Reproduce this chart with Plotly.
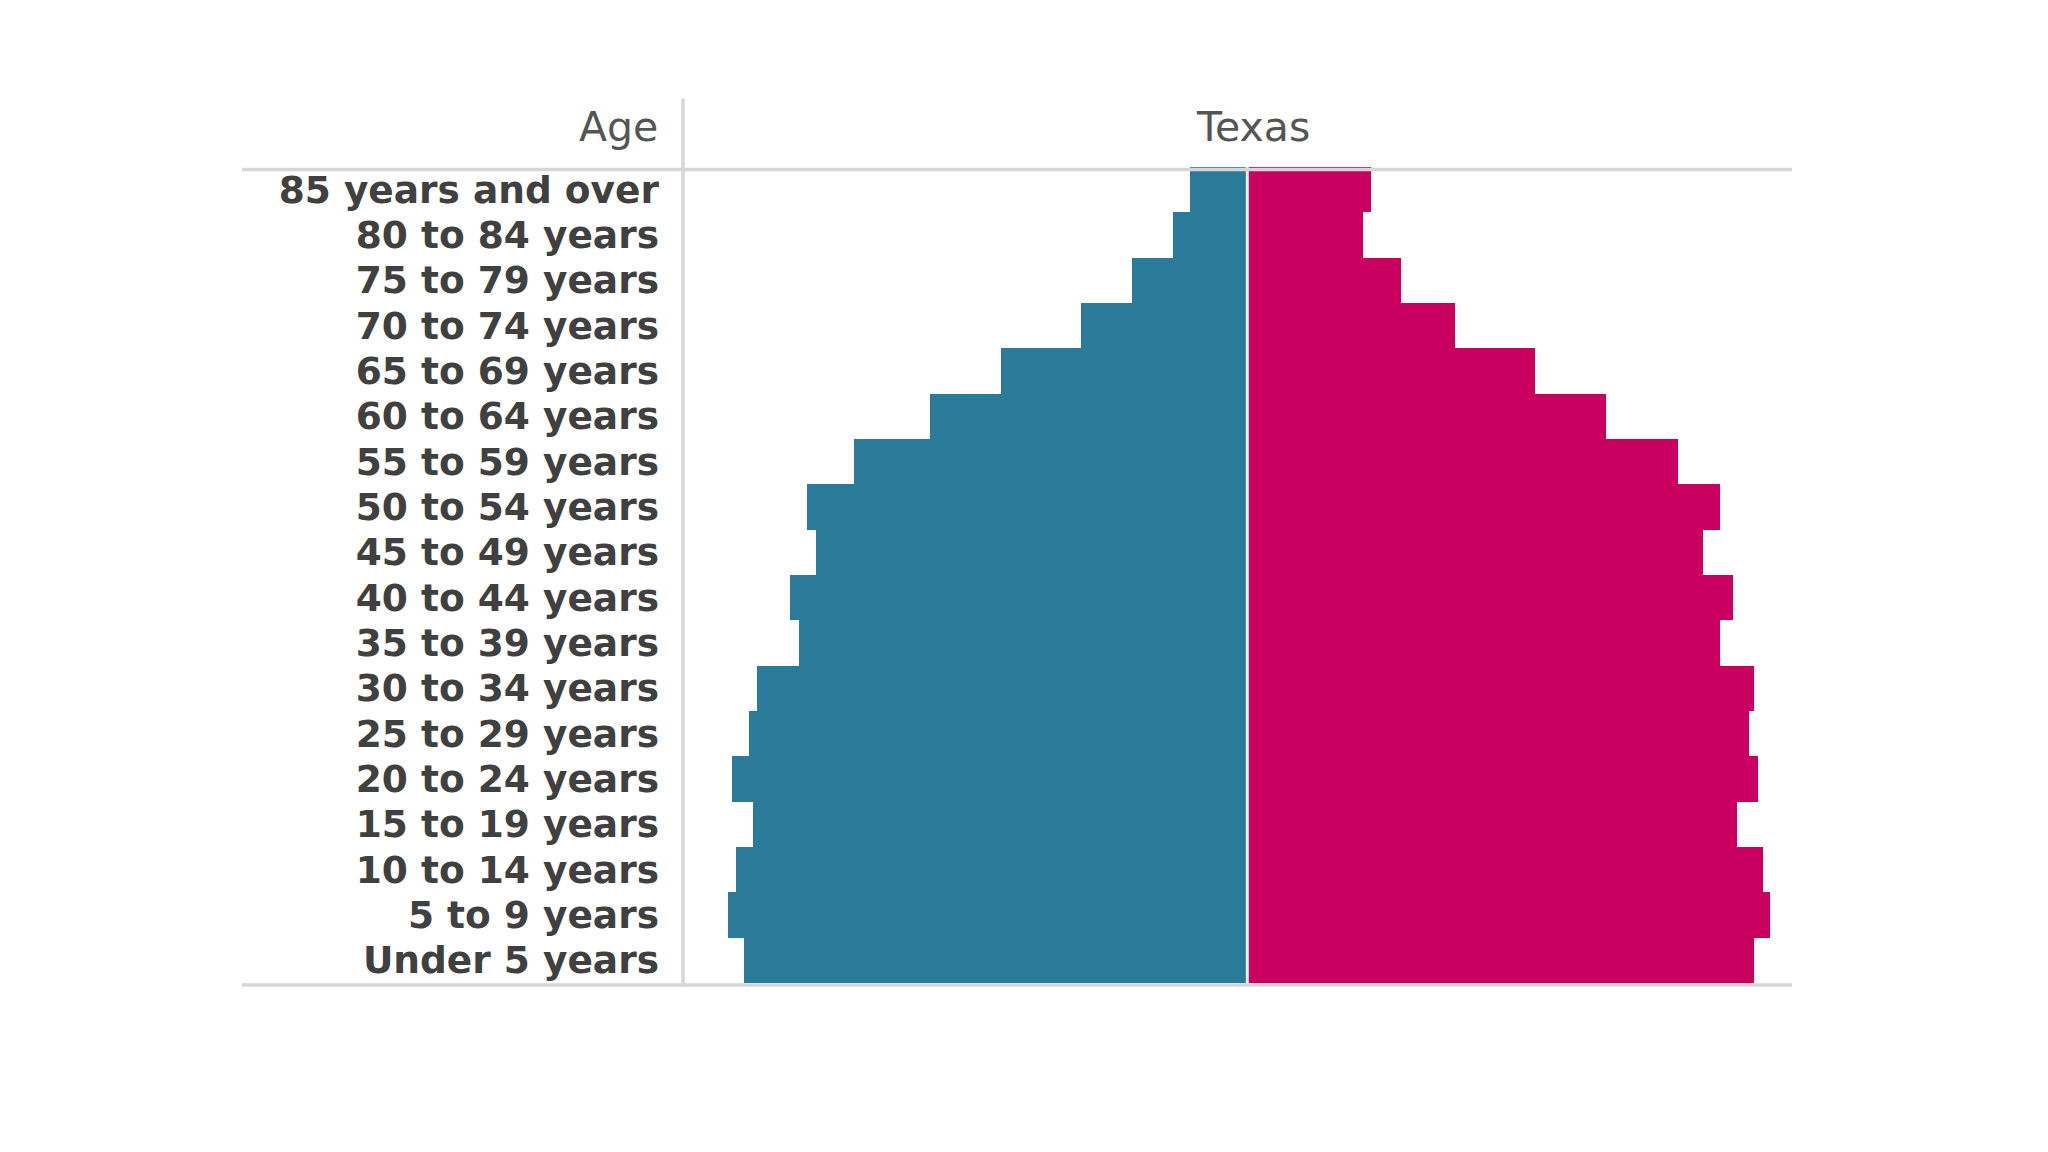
import plotly.graph_objects as go

# Data (thousands of people), youngest to oldest
age_groups = ["Under 5 years", "5 to 9 years", "10 to 14 years", "15 to 19 years",
              "20 to 24 years", "25 to 29 years", "30 to 34 years", "35 to 39 years",
              "40 to 44 years", "45 to 49 years", "50 to 54 years", "55 to 59 years",
              "60 to 64 years", "65 to 69 years", "70 to 74 years", "75 to 79 years",
              "80 to 84 years", "85 years and over"]
male = [1007, 1039, 1023, 989, 1031, 997, 981, 897, 915, 863, 880, 787,
        635, 493, 333, 231, 148, 114]
female = [1013, 1046, 1031, 980, 1021, 1004, 1014, 946, 972, 912, 945, 862,
          718, 576, 416, 307, 231, 247]

x_left, x_right = -1130.6, 1089.4

W, H = 2048, 1152
L, R, T, B = 682, 1792, 167.4, 982.6


def px(xp):
    return (xp - L) / (R - L)


def py(yp):
    return (B - yp) / (B - T)


fig = go.Figure()
fig.add_trace(go.Bar(y=age_groups, x=[-v for v in male], orientation="h",
                     marker=dict(color="#2A7A99", line=dict(width=0)),
                     name="Male", showlegend=False))
fig.add_trace(go.Bar(y=age_groups, x=female, orientation="h",
                     marker=dict(color="#C9005F", line=dict(width=0)),
                     name="Female", showlegend=False))

line_col = "#d6d6d6"
shapes = [
    # center separator
    dict(type="line", xref="x", yref="paper", x0=0, x1=0, y0=0, y1=1,
         line=dict(color="#eeeeee", width=3), layer="above"),
    # top horizontal rule
    dict(type="line", xref="paper", yref="paper", x0=px(242), x1=px(1792),
         y0=py(170), y1=py(170), line=dict(color=line_col, width=3.5), layer="above"),
    # bottom horizontal rule
    dict(type="line", xref="paper", yref="paper", x0=px(242), x1=px(1792),
         y0=py(984.6), y1=py(984.6), line=dict(color=line_col, width=3.5), layer="above"),
    # vertical divider
    dict(type="line", xref="paper", yref="paper", x0=px(683), x1=px(683),
         y0=py(99), y1=py(986), line=dict(color=line_col, width=3.5), layer="above"),
]

annotations = [
    dict(text="Age", xref="paper", yref="paper", x=px(660), y=py(127),
         xanchor="right", yanchor="middle", showarrow=False,
         font=dict(family="DejaVu Sans", size=41, color="#555555")),
    dict(text="Texas", xref="paper", yref="paper", x=px(1253), y=py(127),
         xanchor="center", yanchor="middle", showarrow=False,
         font=dict(family="DejaVu Sans", size=41, color="#555555")),
]

fig.update_layout(
    width=W, height=H,
    margin=dict(l=L, r=W - R, t=T, b=H - B, pad=0),
    paper_bgcolor="white", plot_bgcolor="white",
    barmode="overlay", bargap=0,
    shapes=shapes, annotations=annotations,
    xaxis=dict(range=[x_left, x_right], showgrid=False, zeroline=False,
               showticklabels=False, showline=False, ticks="", fixedrange=True),
    yaxis=dict(categoryorder="array", categoryarray=age_groups,
               range=[-0.5, len(age_groups) - 0.5],
               showgrid=False, zeroline=False, showline=False, ticks="",
               ticklabelstandoff=22,
               tickfont=dict(family="DejaVu Sans", size=37.5, weight="bold",
                             color="#404040")),
)

fig.write_html("out.html")
